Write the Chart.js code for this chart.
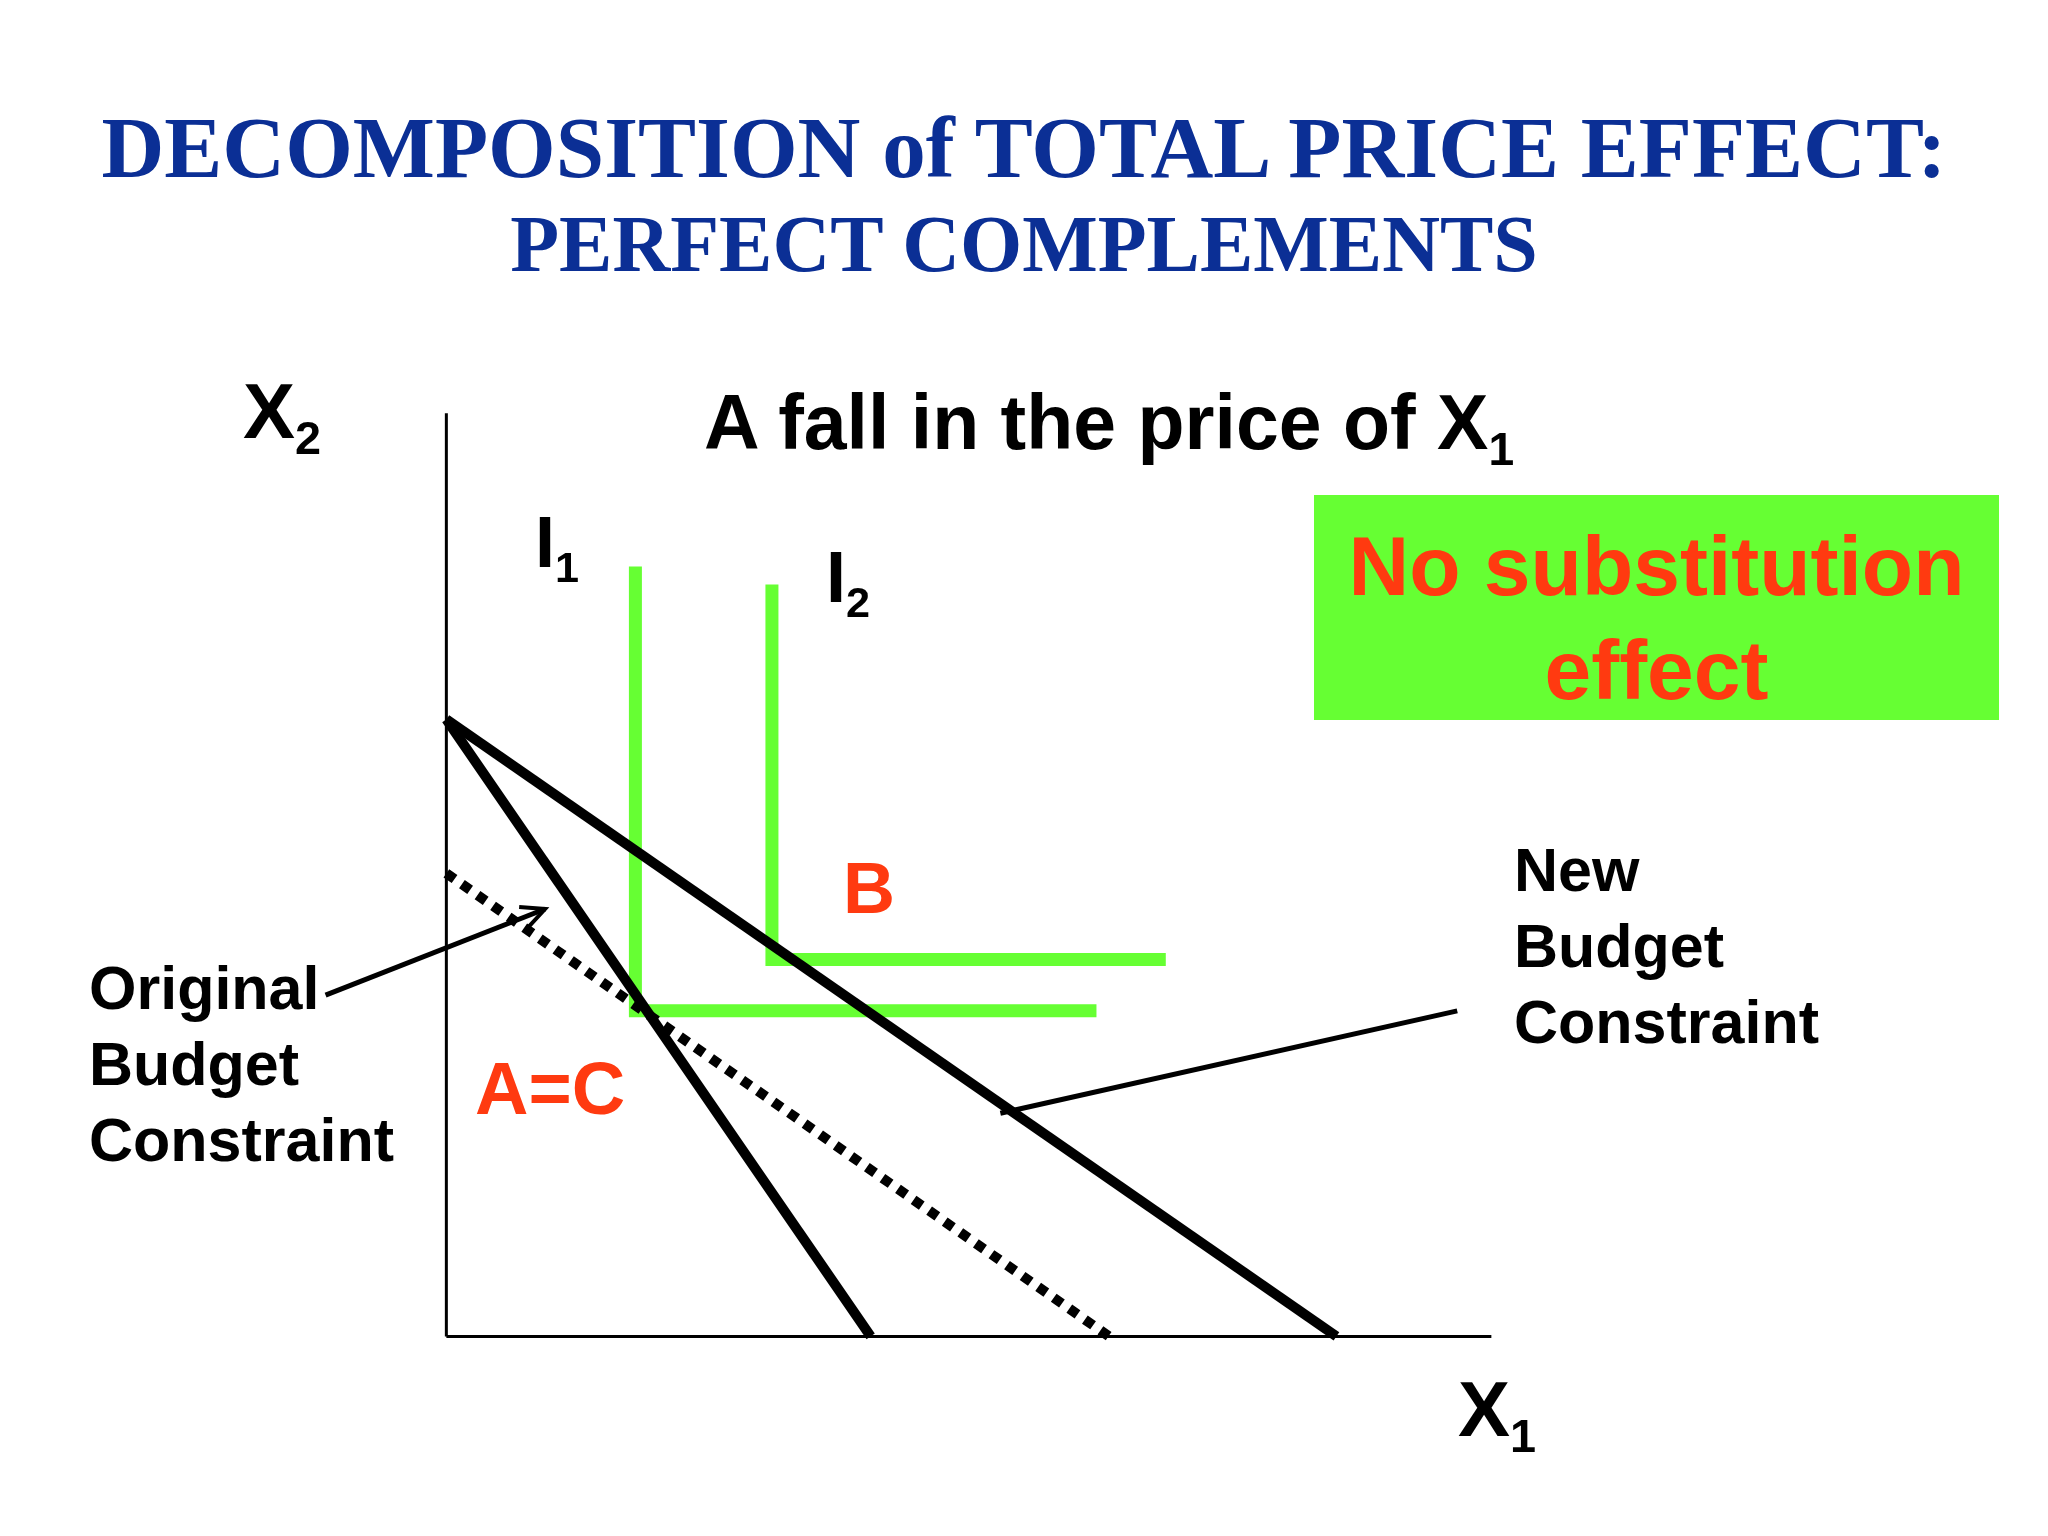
<!DOCTYPE html>
<html>
<head>
<meta charset="utf-8">
<script src="https://cdn.jsdelivr.net/npm/chart.js@4/dist/chart.umd.min.js"></script>
<style>
  body { margin: 0; background: #fff; }
  #wrap { position: relative; width: 2048px; height: 1536px; overflow: hidden; }
  #wrap canvas { position: absolute; left: 0; top: 0; }
  .t { position: absolute; white-space: nowrap; font-family: "Liberation Sans", Arial, sans-serif; font-weight: bold; line-height: 1; }
  .title { font-family: "Liberation Serif", "Times New Roman", serif; color: #0b2f95; left: 0; width: 2048px; text-align: center; }
  .red { color: #ff3a10; }
  sub { font-size: 0.6em; vertical-align: -0.35em; }
  #box { position: absolute; left: 1314px; top: 495px; width: 685px; height: 225px; background: #66ff33; }
  .lbl { font-size: 61px; line-height: 76px; color: #000; }
</style>
</head>
<body>
<div id="wrap">
  <div id="box"></div>
  <canvas id="c" width="2048" height="1536"></canvas>
  <div class="t title" style="top:104px;font-size:87px">DECOMPOSITION of TOTAL PRICE EFFECT:</div>
  <div class="t title" style="top:204px;font-size:80px">PERFECT COMPLEMENTS</div>
  <div class="t" style="left:243px;top:372px;font-size:78px">X<sub>2</sub></div>
  <div class="t" style="left:704px;top:384px;font-size:77px">A fall in the price of X<sub>1</sub></div>
  <div class="t" style="left:1458px;top:1370px;font-size:78px">X<sub>1</sub></div>
  <div class="t" style="left:535px;top:506px;font-size:72px">I<sub>1</sub></div>
  <div class="t" style="left:826px;top:541px;font-size:72px">I<sub>2</sub></div>
  <div class="t red" style="left:1314px;width:685px;text-align:center;top:514px;font-size:84px;line-height:104px">No substitution<br>effect</div>
  <div class="t red" style="left:843px;top:852px;font-size:72px">B</div>
  <div class="t red" style="left:475px;top:1052px;font-size:74px">A=C</div>
  <div class="t lbl" style="left:89px;top:950px">Original<br>Budget<br>Constraint</div>
  <div class="t lbl" style="left:1514px;top:832px">New<br>Budget<br>Constraint</div>
</div>
<script>
// budget lines and indifference curves (x1, x2)
const originalBudget = [{x: 0, y: 5.875}, {x: 4.04, y: 0}];
const newBudget = [{x: 0, y: 5.875}, {x: 8.475, y: 0}];
const compensatedBudget = [{x: 0, y: 4.41}, {x: 6.31, y: 0}];
const curveI1 = [{x: 1.8, y: 7.33}, {x: 1.8, y: 3.1}, {x: 6.19, y: 3.1}];
const curveI2 = [{x: 3.1, y: 7.16}, {x: 3.1, y: 3.59}, {x: 6.85, y: 3.59}];
const axisX = [{x: 0, y: 0}, {x: 9.95, y: 0}];
const axisY = [{x: 0, y: 0}, {x: 0, y: 8.79}];
const arrowOriginal = [{x: -1.15, y: 3.25}, {x: 0.94, y: 4.07}];
const arrowNew = [{x: 9.625, y: 3.1}, {x: 5.275, y: 2.125}];

function line(data, color, width, dash) {
    return { data: data, borderColor: color, borderWidth: width, borderDash: dash || [],
             pointRadius: 0, fill: false, tension: 0, showLine: true, borderCapStyle: 'butt' };
}

const arrowHead = {
    id: 'arrowHead',
    afterDatasetsDraw(chart) {
        const xs = chart.scales.x, ys = chart.scales.y, c = chart.ctx;
        const a = arrowOriginal;
        const x1 = xs.getPixelForValue(a[0].x), y1 = ys.getPixelForValue(a[0].y);
        const x2 = xs.getPixelForValue(a[1].x), y2 = ys.getPixelForValue(a[1].y);
        const ang = Math.atan2(y2 - y1, x2 - x1);
        c.save();
        c.strokeStyle = '#000'; c.lineWidth = 4;
        c.beginPath();
        c.moveTo(x2 - 26 * Math.cos(ang - 0.45), y2 - 26 * Math.sin(ang - 0.45));
        c.lineTo(x2, y2);
        c.lineTo(x2 - 26 * Math.cos(ang + 0.45), y2 - 26 * Math.sin(ang + 0.45));
        c.stroke();
        c.restore();
    }
};

new Chart(document.getElementById('c'), {
    type: 'scatter',
    data: {
        datasets: [
            line(axisX, '#000', 3),
            line(axisY, '#000', 3),
            line(compensatedBudget, '#000', 10, [10, 9]),
            line(originalBudget, '#000', 10),
            line(newBudget, '#000', 10),
            line(curveI1, '#66ff33', 13),
            line(curveI2, '#66ff33', 13),
            line(arrowOriginal, '#000', 5),
            line(arrowNew, '#000', 5)
        ]
    },
    options: {
        responsive: false,
        animation: false,
        layout: { padding: 0 },
        plugins: { legend: { display: false }, tooltip: { enabled: false } },
        scales: {
            x: { type: 'linear', min: -4.25, max: 15.25, display: false },
            y: { type: 'linear', min: -1.9, max: 12.725, display: false }
        }
    },
    plugins: [arrowHead]
});
</script>
</body>
</html>
